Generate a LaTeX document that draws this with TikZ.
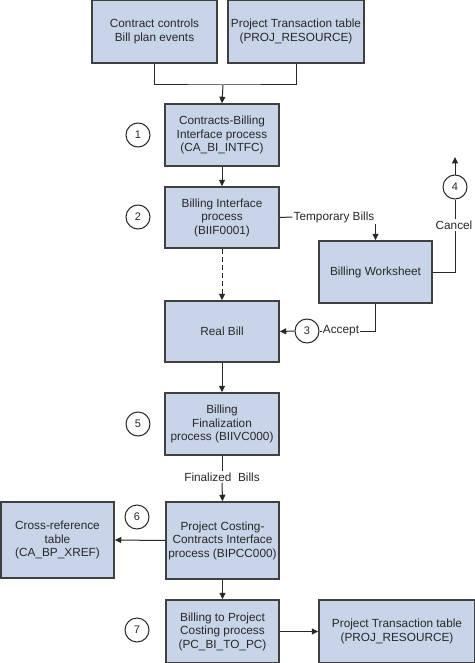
\documentclass[tikz,border=0pt]{standalone}
\usepackage{fontspec}
\setmainfont{Liberation Sans}
\usetikzlibrary{arrows.meta}
\definecolor{boxfill}{RGB}{200,212,232}
\definecolor{boxline}{RGB}{64,64,64}
\definecolor{ink}{RGB}{40,40,40}
\begin{document}
\begin{tikzpicture}[x=1pt,y=-1pt,
  font=\fontsize{11.8}{13.5}\selectfont,
  box/.style={draw=boxline,line width=1.5pt,fill=boxfill,align=center,text=ink,inner sep=1pt},
  num/.style={circle,draw=ink,line width=1pt,fill=white,minimum size=24pt,inner sep=0pt,text=ink,font=\fontsize{11}{12}\selectfont},
  lbl/.style={fill=white,inner sep=1pt,text=ink},
  ln/.style={draw=ink,line width=1pt},
  arr/.style={ln,-{Triangle[length=6.5pt,width=6pt]}}]
\useasboundingbox (0,0) rectangle (474,663);
% boxes
\node[box,minimum width=125pt,minimum height=63pt] (A) at (154.5,31.5) {Contract controls\\Bill plan events};
\node[box,minimum width=136pt,minimum height=63pt] (B) at (296,31.5) {Project Transaction table\\(PROJ\_RESOURCE)};
\node[box,minimum width=114pt,minimum height=62pt] (b1) at (222,135) {Contracts-Billing\\Interface process\\(CA\_BI\_INTFC)};
\node[box,minimum width=114pt,minimum height=61pt] (b2) at (222,217.5) {Billing Interface\\process\\(BIIF0001)};
\node[box,minimum width=113pt,minimum height=62pt] (ws) at (375.5,272) {Billing Worksheet};
\node[box,minimum width=114pt,minimum height=61pt] (rb) at (222,331.5) {Real Bill};
\node[box,minimum width=114pt,minimum height=62pt] (b5) at (222,424) {Billing\\Finalization\\process (BIIVC000)};
\node[box,minimum width=113pt,minimum height=77pt] (b6) at (222.5,540.5) {Project Costing-\\Contracts Interface\\process (BIPCC000)};
\node[box,minimum width=113pt,minimum height=76pt] (xr) at (57.5,540) {Cross-reference\\table\\(CA\_BP\_XREF)};
\node[box,minimum width=113pt,minimum height=63pt] (b7) at (222.5,631.5) {Billing to Project\\Costing process\\(PC\_BI\_TO\_PC)};
\node[box,minimum width=156pt,minimum height=63pt] (pt) at (397,631.5) {Project Transaction table\\(PROJ\_RESOURCE)};
% numbers
\node[num] (c1) at (138,135) {1};
\node[num] (c2) at (138,217) {2};
\node[num] (c3) at (307,331) {3};
\node[num] (c4) at (455,187) {4};
\node[num] (c5) at (138,424) {5};
\node[num] (c6) at (137,517) {6};
\node[num] (c7) at (137,630) {7};
% labels
\node[lbl] (tb) at (334,217) {Temporary Bills};
\node[lbl] (acc) at (341,331) {Accept};
\node[lbl] (can) at (454,225) {Cancel};
\node[lbl] (fb) at (222,477) {Finalized\ \ Bills};
\coordinate (j) at (223,85);
\coordinate (up) at (455,157);
% connectors
\draw[ln] (A.south) |- (j) -| (B.south);
\draw[arr] (j) -- (b1.north);
\draw[arr] (b1.south) -- (b2.north);
\draw[ln] (b2.east) -- (tb.west);
\draw[arr] (ws.north |- tb.south) -- (ws.north);
\draw[arr,dashed,dash pattern=on 5pt off 3pt] (b2.south) -- (rb.north);
\draw[ln] (ws.south) |- (acc.east);
\draw[ln] (acc.west) -- (c3.east);
\draw[arr] (c3.west) -- (rb.east);
\draw[ln] (ws.east) -| (c4.south |- can.south);
\draw[ln] (c4.south |- can.north) -- (c4.south);
\draw[arr] (c4.north) -- (up);
\draw[arr] (rb.south) -- (b5.north);
\draw[ln] (b5.south) -- (fb.north);
\draw[arr] (fb.south) -- (b6.north);
\draw[arr] (b6.west) -- (xr.east);
\draw[arr] (b6.south) -- (b7.north);
\draw[arr] (b7.east) -- (pt.west);
\end{tikzpicture}
\end{document}
